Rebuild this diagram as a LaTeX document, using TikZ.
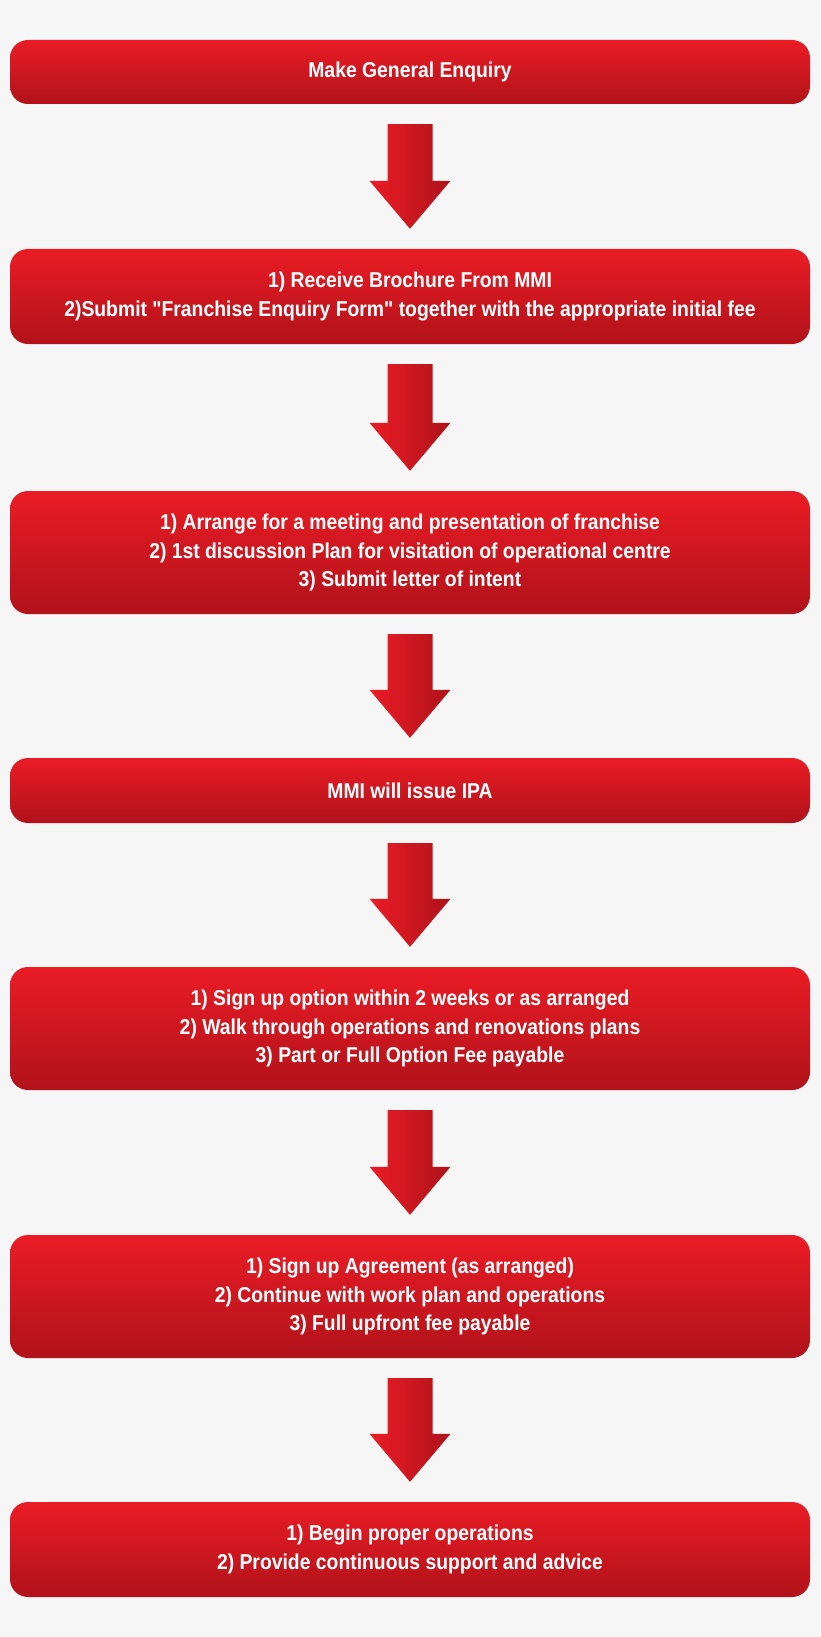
\documentclass[tikz,border=0pt]{standalone}
\usepackage{fontspec}
\setmainfont{Liberation Sans}[FakeStretch=0.9, Ligatures=TeXOff]
\usetikzlibrary{calc}
\definecolor{bg}{HTML}{F6F6F6}
\definecolor{redtop}{HTML}{EA1C25}
\definecolor{redbot}{HTML}{B1121A}
\definecolor{redleft}{HTML}{EC1C26}
\definecolor{redright}{HTML}{AE1219}
\tikzset{
  box/.style={rounded corners=18pt, top color=redtop, bottom color=redbot,
    minimum width=800pt, inner sep=0pt, align=center, text=white,
    font=\fontsize{21.5}{28.8}\selectfont\bfseries},
  arrowfill/.style={left color=redleft, right color=redright}
}
\newcommand{\blockarrow}[2]{%
  \path[arrowfill] ($(#1.south)+(-22.5pt,-20pt)$) -- ($(#1.south)+(22.5pt,-20pt)$)
    -- ($(#2.north)+(22.5pt,68pt)$) -- ($(#2.north)+(40.5pt,68pt)$)
    -- ($(#2.north)+(0,20pt)$) -- ($(#2.north)+(-40.5pt,68pt)$)
    -- ($(#2.north)+(-22.5pt,68pt)$) -- cycle;}
\begin{document}
\begin{tikzpicture}[x=1pt,y=1pt]
\fill[bg] (0,0) rectangle (820,-1637);
\useasboundingbox (0,0) rectangle (820,-1637);
\node[box, minimum height=64pt] (b1) at (410,-72) {Make General Enquiry};
\node[box, minimum height=95pt] (b2) at (410,-296.5) {1) Receive Brochure From MMI\\2)Submit "Franchise Enquiry Form" together with the appropriate initial fee};
\node[box, minimum height=123pt] (b3) at (410,-552.5) {1) Arrange for a meeting and presentation of franchise\\2) 1st discussion Plan for visitation of operational centre\\3) Submit letter of intent};
\node[box, minimum height=65pt] (b4) at (410,-790.5) {MMI will issue IPA};
\node[box, minimum height=123pt] (b5) at (410,-1028.5) {1) Sign up option within 2 weeks or as arranged\\2) Walk through operations and renovations plans\\3) Part or Full Option Fee payable};
\node[box, minimum height=123pt] (b6) at (410,-1296.5) {1) Sign up Agreement (as arranged)\\2) Continue with work plan and operations\\3) Full upfront fee payable};
\node[box, minimum height=95pt] (b7) at (410,-1549.5) {1) Begin proper operations\\2) Provide continuous support and advice};
\blockarrow{b1}{b2}
\blockarrow{b2}{b3}
\blockarrow{b3}{b4}
\blockarrow{b4}{b5}
\blockarrow{b5}{b6}
\blockarrow{b6}{b7}
\end{tikzpicture}
\end{document}
